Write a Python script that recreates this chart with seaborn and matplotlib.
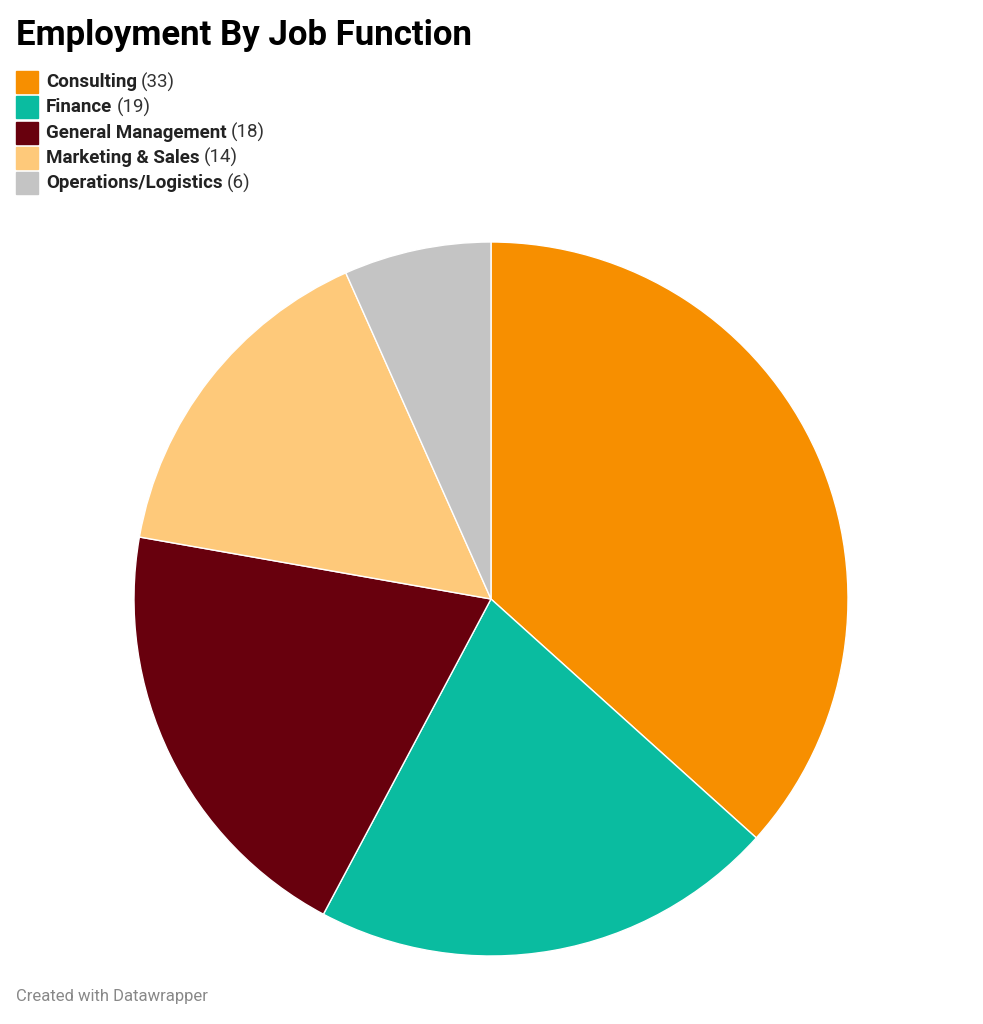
import matplotlib.pyplot as plt
import seaborn as sns
from matplotlib.patches import Rectangle

# --- DATA ---
categories = ["Consulting", "Finance", "General Management", "Marketing & Sales", "Operations/Logistics"]
values = [33, 19, 18, 14, 6]
colors = ["#f78f00", "#0abca0", "#68000d", "#fec97a", "#c4c4c4"]

sns.set_style("white")
plt.rcParams['font.family'] = ['Roboto', 'DejaVu Sans']

fig = plt.figure(figsize=(9.83, 10.24), dpi=100)
W, H = 983, 1024

# pie axes placed to match center (491, 599) and radius ~357 px
cx, cy, r = 491, 599, 357
ax = fig.add_axes([(cx - r) / W, (H - cy - r) / H, 2 * r / W, 2 * r / H])
ax.pie(values, colors=colors, startangle=90, counterclock=False,
       wedgeprops=dict(edgecolor="white", linewidth=1))
ax.set_xlim(-1, 1)
ax.set_ylim(-1, 1)
ax.set_aspect("equal")
ax.axis("off")

# title
fig.text(16 / W, 1 - 36 / H, "Employment By Job Function", fontsize=25,
         fontweight="bold", va="center", ha="left", color="#000000")

# legend drawn manually
for i, (cat, val, col) in enumerate(zip(categories, values, colors)):
    y = 82 + i * 25.3
    fig.patches.append(Rectangle((16 / W, 1 - (y + 11) / H), 22 / W, 22 / H,
                                 transform=fig.transFigure, color=col))
    t = fig.text(46 / W, 1 - y / H, cat, fontsize=13.5, fontweight="bold",
                 va="center", ha="left", color="#222222")
    fig.canvas.draw()
    bb = t.get_window_extent()
    fig.text((bb.x1 + 4) / W, 1 - y / H, f"({val})", fontsize=13.5,
             va="center", ha="left", color="#333333")

# footer
fig.text(16 / W, 1 - 997 / H, "Created with Datawrapper", fontsize=12,
         va="center", ha="left", color="#888888")

plt.savefig("out.png", dpi=100)
